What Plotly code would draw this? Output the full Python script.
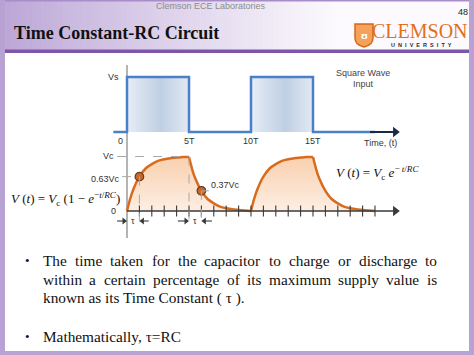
import plotly.graph_objects as go

W, H = 474, 355

# ---------------- data ----------------
# square-wave input (time in units of tau, level in units of Vs)
sq_t = [-1.1, 0, 0, 5, 5, 10, 10, 15, 15, 20]
sq_v = [0, 0, 1, 1, 0, 0, 1, 1, 0, 0]
pulse_start = [0, 10]
pulse_end = [5, 15]

# capacitor voltage, one cycle (units of Vc)
charge_t = [0, 0.25, 0.5, 1, 1.5, 2, 2.5, 3, 3.5, 4, 4.5, 5]
charge_v = [0, 0.22, 0.39, 0.63, 0.78, 0.86, 0.92, 0.95, 0.97, 0.98, 0.99, 0.99]
discharge_t = [5, 5.25, 5.5, 6, 6.5, 7, 7.5, 8, 8.5, 9, 9.5, 10]
discharge_v = [0.99, 0.77, 0.60, 0.37, 0.22, 0.14, 0.08, 0.05, 0.03, 0.02, 0.01, 0.0]
cycle_offsets = [0, 10]

marker_t = [1, 6]
marker_v = [0.63, 0.37]

tick_t = list(range(1, 21))
top_tick_vals = [0, 5, 10, 15]
top_tick_text = ["0", "5T", "10T", "15T"]

# tau brackets: (head time, tail time, direction)
tau_arrows = [(0, -0.8, "right"), (1, 1.75, "left"), (5, 4.1, "right"), (6, 6.85, "left")]
tau_labels = [0.5, 5.5]
axis_end = 22

bullet_line1 = "The time taken for the capacitor to charge or discharge to"
bullet_line2 = "within a certain percentage of its maximum supply value is"
bullet_line3 = "known as its Time Constant ( τ )."
bullet_line4 = "Mathematically, τ=RC"

# ---------------- helpers (pixel -> paper) ----------------
def P(x):
    return x / W


def Q(y):
    return 1 - y / H


# Times-compatible advance widths (per 1000 em) for justification
TW = dict(a=444, b=500, c=444, d=500, e=444, f=333, g=500, h=500, i=278, j=278, k=500,
          l=278, m=778, n=500, o=500, p=500, q=500, r=333, s=389, t=278, u=500, v=500,
          w=722, x=500, y=500, z=444, T=611)


def word_width(word, size):
    return sum(TW.get(ch, 500) for ch in word) / 1000.0 * size


def justify(line, left, right, size):
    words = line.split()
    ws = [word_width(w, size) for w in words]
    gap = (right - left - sum(ws)) / (len(words) - 1)
    out = []
    x = left
    for w, wd in zip(words, ws):
        out.append((w, x))
        x += wd + gap
    return out


PX_PER_TAU = 12.4
X0 = 127
xr = [-X0 / PX_PER_TAU, (W - X0) / PX_PER_TAU]
# top chart: v=0 at pixel 132, v=1 at pixel 77
y1r = [-(H - 132) / 55.0, 132 / 55.0]
# bottom chart: v=0 at pixel 211, v=1 at pixel 156.5
y2r = [-(H - 211) / 54.5, 211 / 54.5]
TY = -10 / 54.5  # level of the tau brackets (bottom chart units)

fig = go.Figure()

BLUE = "#4a80c8"
ORANGE = "#d86c1e"
DARK = "#3a3a3a"

# square-wave pulse fills
for a, b in zip(pulse_start, pulse_end):
    fig.add_trace(go.Scatter(
        x=[a, a, b, b], y=[0, 1, 1, 0], fill="toself", mode="none",
        fillgradient=dict(type="horizontal",
                          colorscale=[[0, "#e6edf6"], [0.55, "#bfcfe3"], [1, "#e2e9f3"]]),
        hoverinfo="skip", showlegend=False, xaxis="x", yaxis="y"))

# square wave line
fig.add_trace(go.Scatter(x=sq_t, y=sq_v, mode="lines",
                         line=dict(color=BLUE, width=2.5),
                         hoverinfo="skip", showlegend=False, xaxis="x", yaxis="y"))

# capacitor curve segments
for off in cycle_offsets:
    for ts, vs in ((charge_t, charge_v), (discharge_t, discharge_v)):
        fig.add_trace(go.Scatter(
            x=[t + off for t in ts], y=vs, mode="lines", fill="tozeroy",
            line=dict(color=ORANGE, width=2.5, shape="spline", smoothing=0.6),
            fillgradient=dict(type="vertical", start=0, stop=1,
                              colorscale=[[0, "#fdeee3"], [1, "#f9d0ae"]]),
            hoverinfo="skip", showlegend=False, xaxis="x", yaxis="y2"))

# axis ticks on bottom time axis
fig.add_trace(go.Scatter(x=tick_t, y=[0] * len(tick_t), mode="markers",
                         marker=dict(symbol="line-ns", size=8,
                                     line=dict(color=DARK, width=1.1)),
                         hoverinfo="skip", showlegend=False, xaxis="x", yaxis="y2"))

# markers
fig.add_trace(go.Scatter(x=marker_t, y=marker_v, mode="markers",
                         marker=dict(size=8.5, color="#c9692c",
                                     line=dict(color="#6a4020", width=1.3)),
                         hoverinfo="skip", showlegend=False, xaxis="x", yaxis="y2"))

# arrowheads
head_big = 4.5 / PX_PER_TAU
fig.add_trace(go.Scatter(x=[axis_end - head_big], y=[0], mode="markers",
                         marker=dict(symbol="triangle-right", size=9, color="#1c2a48"),
                         hoverinfo="skip", showlegend=False, xaxis="x", yaxis="y"))
fig.add_trace(go.Scatter(x=[axis_end - head_big], y=[0], mode="markers",
                         marker=dict(symbol="triangle-right", size=9, color=DARK),
                         hoverinfo="skip", showlegend=False, xaxis="x", yaxis="y2"))
head_small = 3 / PX_PER_TAU
fig.add_trace(go.Scatter(
    x=[h - head_small if d == "right" else h + head_small for h, _, d in tau_arrows],
    y=[TY] * len(tau_arrows), mode="markers",
    marker=dict(symbol=["triangle-" + d for _, _, d in tau_arrows], size=6, color=DARK),
    hoverinfo="skip", showlegend=False, xaxis="x", yaxis="y2"))

shapes = []
# header gradient
N = 90
for i in range(N):
    x0 = W * i / N
    x1 = W * (i + 1) / N + 0.6
    t = min(1.0, (x0 + x1) / 2 / 340.0)
    t = t ** 0.9
    c0 = (186, 164, 214)
    c1 = (252, 250, 254)
    col = "rgb(%d,%d,%d)" % tuple(round(c0[k] + (c1[k] - c0[k]) * t) for k in range(3))
    shapes.append(dict(type="rect", xref="paper", yref="paper", x0=P(x0), x1=P(x1),
                       y0=Q(50), y1=Q(0), fillcolor=col, line=dict(width=0), layer="below"))
# header top line and bottom bar
shapes.append(dict(type="rect", xref="paper", yref="paper", x0=0, x1=1, y0=Q(1.5), y1=1,
                   fillcolor="#a88dca", line=dict(width=0), layer="below"))
shapes.append(dict(type="rect", xref="paper", yref="paper", x0=0, x1=1, y0=Q(53), y1=Q(49.5),
                   fillcolor="#7d56aa", line=dict(width=0), layer="below"))
# slide borders
shapes.append(dict(type="rect", xref="paper", yref="paper", x0=0, x1=P(5), y0=0, y1=1,
                   fillcolor="#b8a1d3", line=dict(width=0), layer="below"))
shapes.append(dict(type="rect", xref="paper", yref="paper", x0=P(469), x1=1, y0=0, y1=1,
                   fillcolor="#b8a1d3", line=dict(width=0), layer="below"))
shapes.append(dict(type="rect", xref="paper", yref="paper", x0=0, x1=1, y0=0, y1=Q(351),
                   fillcolor="#b8a1d3", line=dict(width=0), layer="below"))

# vertical axis line
shapes.append(dict(type="line", xref="x", yref="paper", x0=0, x1=0, y0=Q(238), y1=Q(65),
                   line=dict(color="#8c8c8c", width=1.3), layer="below"))
# top axis tail (beyond the square wave) and bottom time axis
shapes.append(dict(type="line", xref="x", yref="y", x0=19.6, x1=axis_end - head_big,
                   y0=0, y1=0, line=dict(color="#1c2a48", width=2)))
shapes.append(dict(type="line", xref="x", yref="y2", x0=0, x1=axis_end - head_big,
                   y0=0, y1=0, line=dict(color=DARK, width=1.5)))
# tau bracket shafts
for h, tl, d in tau_arrows:
    hx = h - head_small if d == "right" else h + head_small
    shapes.append(dict(type="line", xref="x", yref="y2", x0=tl, x1=hx, y0=TY, y1=TY,
                       line=dict(color=DARK, width=1.1)))

DASH = dict(color="#a8a8a8", width=1, dash="dash")
# horizontal guides (bottom chart)
shapes.append(dict(type="line", xref="x", yref="y2", x0=-0.8, x1=5, y0=1, y1=1, line=DASH))
shapes.append(dict(type="line", xref="x", yref="y2", x0=-0.4, x1=marker_t[0],
                   y0=marker_v[0], y1=marker_v[0], line=DASH))
shapes.append(dict(type="line", xref="x", yref="y2", x0=marker_t[1], x1=6.6,
                   y0=marker_v[1], y1=marker_v[1], line=DASH))
# vertical guides
for xv, yv in ((marker_t[0], marker_v[0]), (5, 1), (marker_t[1], marker_v[1])):
    shapes.append(dict(type="line", xref="x", yref="y2", x0=xv, x1=xv, y0=yv, y1=-0.22,
                       line=DASH))

# logo shield
shapes.append(dict(type="path", xref="paper", yref="paper",
                   path="M %f %f L %f %f L %f %f Q %f %f %f %f Q %f %f %f %f Z" % (
                       P(355), Q(24), P(373), Q(24), P(373), Q(38),
                       P(373), Q(45), P(364), Q(47), P(355), Q(45), P(355), Q(38)),
                   fillcolor="#f4a25a", line=dict(color="#d8661a", width=1.5)))

ann = []
SANS = "Liberation Sans"
SERIF = "Liberation Serif"


def txt(x, y, s, size=9, color="#333333", family=SANS, xanchor="center", **kw):
    d = dict(x=P(x), y=Q(y), xref="paper", yref="paper", text=s, showarrow=False,
             font=dict(size=size, color=color, family=family), xanchor=xanchor,
             yanchor="middle")
    d.update(kw)
    ann.append(d)


# header texts
txt(211, 6, "Clemson ECE Laboratories", size=9, color="#8d8d8d")
txt(463, 12, "48", size=9, color="#222222")
txt(12, 33, "<b>Time Constant-RC Circuit</b>", size=18, color="#111111", family=SERIF,
    xanchor="left")
txt(420, 31, "CLEMSON", size=20, color="#e0711c", family=SERIF)
txt(421, 44.5, "<b>U  N  I  V  E  R  S  I  T  Y</b>", size=5.5, color="#2b2b40")
txt(364, 35, "<b>ʊ</b>", size=11, color="#ffffff", family=SERIF)

# top chart labels
txt(113, 77, "Vs", size=9)
for v, s in zip(top_tick_vals, top_tick_text):
    xpix = X0 + PX_PER_TAU * v
    txt(xpix - 7 if v == 0 else xpix, 141, s, size=9)
txt(380, 143, "Time, (t)", size=9)
txt(363, 73, "Square Wave", size=9, color="#444444")
txt(363, 84, "Input", size=9, color="#444444")

# bottom chart labels
txt(108, 156, "Vc", size=9)
txt(122, 179, "0.63Vc", size=9, xanchor="right")
txt(113, 211, "0", size=9)
txt(209, 184.5, "0.37Vc", size=9, xanchor="left")
for c in tau_labels:
    ann.append(dict(x=c, y=TY, xref="x", yref="y2", text="τ", showarrow=False,
                    font=dict(size=9, color="#333333", family=SANS)))

# equations
txt(65, 199, "<i>V</i> (<i>t</i>) = <i>V</i><sub>c</sub> (1 − <i>e</i><sup>−<i>t</i>/<i>RC</i></sup>)",
    size=13, color="#111111", family=SERIF)
txt(377, 173, "<i>V</i> (<i>t</i>) = <i>V</i><sub>c</sub> <i>e</i><sup>− <i>t</i>/<i>RC</i></sup>",
    size=13, color="#111111", family=SERIF)

# bullet text (justified lines placed word by word)
FS = 15.3
LEFT, RIGHT = 40.9, 435.2
for w, x in justify(bullet_line1, LEFT, RIGHT, FS):
    txt(x, 260.5, w, size=FS, color="#111111", family=SERIF, xanchor="left")
for w, x in justify(bullet_line2, LEFT, RIGHT, FS):
    txt(x, 279, w, size=FS, color="#111111", family=SERIF, xanchor="left")
txt(LEFT, 297.5, bullet_line3, size=FS, color="#111111", family=SERIF, xanchor="left")
txt(LEFT, 336.5, bullet_line4, size=FS, color="#111111", family=SERIF, xanchor="left")
txt(27, 260, "•", size=13, color="#111111", family=SERIF)
txt(27, 336, "•", size=13, color="#111111", family=SERIF)

fig.update_layout(
    width=W, height=H, autosize=False,
    margin=dict(l=0, r=0, t=0, b=0, pad=0),
    paper_bgcolor="white", plot_bgcolor="rgba(0,0,0,0)",
    showlegend=False,
    xaxis=dict(range=xr, visible=False, domain=[0, 1], fixedrange=True),
    yaxis=dict(range=y1r, visible=False, domain=[0, 1], fixedrange=True),
    yaxis2=dict(range=y2r, visible=False, domain=[0, 1], overlaying="y", fixedrange=True),
    shapes=shapes, annotations=ann,
)

fig.write_html("out.html", config={"displayModeBar": False, "staticPlot": True},
               post_script="document.body.style.margin='0';")
